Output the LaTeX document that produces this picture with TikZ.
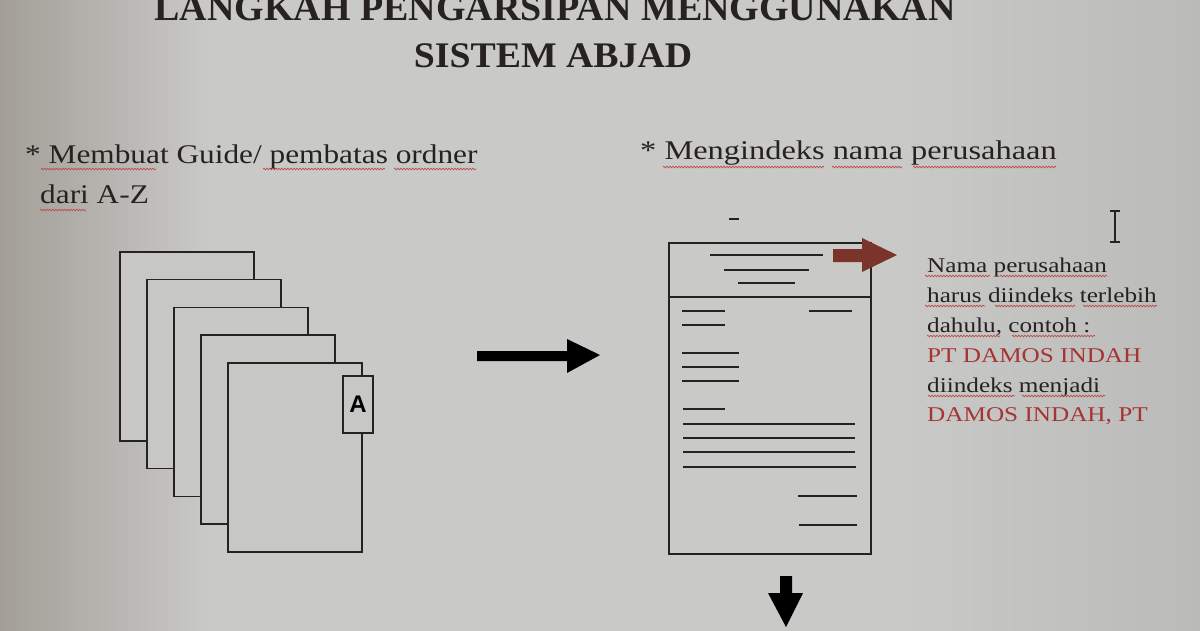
\documentclass[tikz,border=0pt]{standalone}
\usepackage{fontspec}
\setmainfont{Liberation Serif}
\newfontfamily\tabfont{Liberation Sans}
\usetikzlibrary{decorations.pathmorphing}

\definecolor{bg}{RGB}{201,201,199}
\definecolor{bgleft}{RGB}{162,158,151}
\definecolor{bgright}{RGB}{186,186,184}
\definecolor{sheetgray}{RGB}{199,199,197}
\definecolor{ink}{RGB}{38,34,32}
\definecolor{redtext}{RGB}{165,52,50}
\definecolor{brownarrow}{RGB}{122,52,42}
\definecolor{spellred}{RGB}{190,75,72}

\tikzset{
  sheet/.style={draw=ink, line width=1.6pt, fill=sheetgray, rectangle, minimum width=134pt, minimum height=189pt, anchor=north west, inner sep=0pt},
  textline/.style={ink, line width=2pt},
  spell/.style={spellred, line width=0.7pt, decorate, decoration={snake, amplitude=0.8pt, segment length=3pt}},
  label/.style={anchor=base west, inner sep=0pt, text=ink},
}

\begin{document}
\begin{tikzpicture}[x=1pt,y=-1pt]
  \useasboundingbox (0,0) rectangle (1200,630);
  \fill[bg] (-5,-5) rectangle (1205,640);
  \shade[left color=bgleft, right color=bg] (-5,-5) rectangle (210,640);
  \shade[left color=bg, right color=bgright] (900,-5) rectangle (1205,640);

  % title
  \node[anchor=base, inner sep=0pt, text=ink, font=\bfseries\fontsize{38}{40}\selectfont] (title1) at (555,20) {LANGKAH PENGARSIPAN MENGGUNAKAN};
  \node[anchor=base, inner sep=0pt, text=ink, font=\bfseries\fontsize{36}{40}\selectfont] (title2) at (553,67) {\scalebox{1.05}[1]{SISTEM ABJAD}};

  % left column
  \node[label, font=\fontsize{27}{32}\selectfont] (guide) at (25,163) {\scalebox{1.16}[1]{* Membuat Guide/ pembatas ordner}};
  \node[label, font=\fontsize{27}{32}\selectfont] (guide2) at (40,203) {\scalebox{1.16}[1]{dari A-Z}};
  \draw[spell] (41,169) -- (156,169);
  \draw[spell] (263,169) -- (385,169);
  \draw[spell] (394,169) -- (476,169);
  \draw[spell] (40,210) -- (86,210);

  \foreach \i in {0,...,4}
    \node[sheet] (sheet\i) at ({119+27*\i},{251+27.8*\i}) {};
  \node[draw=ink, line width=1.6pt, fill=sheetgray, minimum width=30pt, minimum height=57pt, inner sep=0pt, font=\tabfont\bfseries\fontsize{24}{24}\selectfont] (tabA) at (358,404.5) {A};

  % big arrow
  \fill[black] (477,351) -- (567,351) -- (567,339) -- (600,355) -- (567,373) -- (567,361) -- (477,361) -- cycle;

  % right column
  \node[label, font=\fontsize{27}{32}\selectfont] (index) at (640,159) {\scalebox{1.2}[1]{* Mengindeks nama perusahaan}};
  \draw[spell] (663,167) -- (824,167);
  \draw[spell] (832,167) -- (902,167);
  \draw[spell] (913,167) -- (1056,167);

  \draw[ink, line width=1.5pt] (729,219) -- (739,219);
  \draw[ink, line width=1.2pt] (1115,211) -- (1115,242) (1110,211) -- (1120,211) (1110,242) -- (1120,242);

  \node[draw=ink, line width=1.8pt, minimum width=202pt, minimum height=311pt, anchor=north west, inner sep=0pt] (letter) at (668,242) {};
  \draw[ink, line width=1.6pt] (letter.north west) ++(0,55) -- ++(202,0);
  \foreach \y/\a/\b in {255/710/823, 270/724/809, 283/738/795, 311/682/725, 311/809/852, 325/682/725,
                        353/682/739, 367/682/739, 381/682/739, 409/683/725, 424/683/855, 438/683/855,
                        452/683/855, 467/683/856, 496/798/857, 525/799/857}
    \draw[textline] (\a,\y) -- (\b,\y);

  \fill[brownarrow] (833,249) -- (862,249) -- (862,238) -- (897,255) -- (862,272) -- (862,262) -- (833,262) -- cycle;

  \node[label, font=\fontsize{21}{30}\selectfont] (note1) at (927,272) {\scalebox{1.2}[1]{Nama perusahaan}};
  \node[label, font=\fontsize{21}{30}\selectfont] (note2) at (927,302) {\scalebox{1.2}[1]{harus diindeks terlebih}};
  \node[label, font=\fontsize{21}{30}\selectfont] (note3) at (927,332) {\scalebox{1.2}[1]{dahulu, contoh :}};
  \node[label, font=\fontsize{21}{30}\selectfont, text=redtext] (note4) at (927,362) {\scalebox{1.2}[1]{PT DAMOS INDAH}};
  \node[label, font=\fontsize{21}{30}\selectfont] (note5) at (927,392) {\scalebox{1.2}[1]{diindeks menjadi}};
  \node[label, font=\fontsize{21}{30}\selectfont, text=redtext] (note6) at (927,421) {\scalebox{1.2}[1]{DAMOS INDAH, PT}};
  \draw[spell] (925,276) -- (990,276);
  \draw[spell] (1000,276) -- (1107,276);
  \draw[spell] (925,306) -- (985,306);
  \draw[spell] (995,306) -- (1075,306);
  \draw[spell] (1083,306) -- (1157,306);
  \draw[spell] (927,336) -- (1000,336);
  \draw[spell] (1012,336) -- (1095,336);
  \draw[spell] (928,396) -- (1015,396);
  \draw[spell] (1022,396) -- (1105,396);

  % down arrow
  \fill[black] (780,576) -- (792,576) -- (792,593) -- (803,593) -- (786,627) -- (768,593) -- (780,593) -- cycle;
\end{tikzpicture}
\end{document}
